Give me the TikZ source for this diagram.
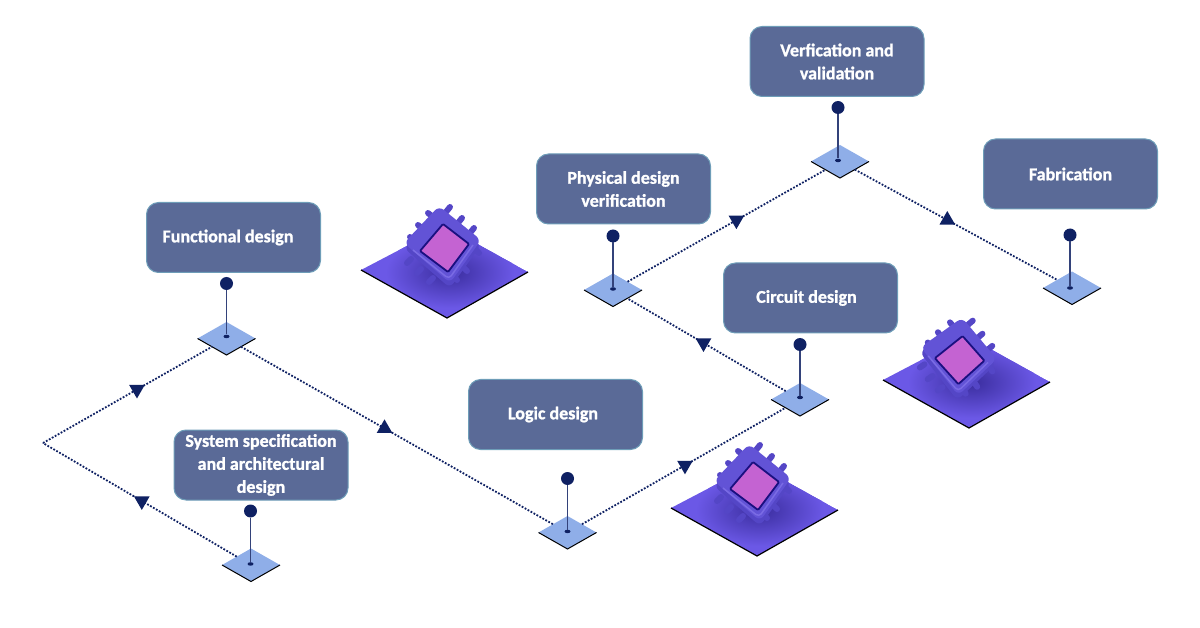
\documentclass[tikz,border=0pt]{standalone}
\usepackage{fontspec}
\setmainfont[BoldFeatures={FakeBold=1.2}]{Carlito}
\usepackage{xcolor}
\usetikzlibrary{positioning,shapes.geometric}

\definecolor{boxblue}{HTML}{5A6A97}
\definecolor{boxedge}{HTML}{6E9DB8}
\definecolor{padblue}{HTML}{8FAEE8}
\definecolor{inkblue}{HTML}{0F2163}
\definecolor{plateblue}{HTML}{6B58E6}
\definecolor{shadowblue}{HTML}{3A2D9E}
\definecolor{chipblue}{HTML}{6253D6}
\definecolor{chiplight}{HTML}{7A6BE4}
\definecolor{chipdark}{HTML}{5446C6}
\definecolor{chippink}{HTML}{C463D2}
\definecolor{chipink}{HTML}{1A1080}

\tikzset{
    stagebox/.style={draw=boxedge, line width=1pt, fill=boxblue, rounded corners=12pt, minimum width=174pt, minimum height=70pt, inner sep=0pt, align=center, text=white, font=\fontsize{18}{23}\selectfont\bfseries},
    pad/.style={diamond, fill=padblue, minimum width=58pt, minimum height=33pt, inner sep=0pt, outer sep=0pt},
    pinhead/.style={circle, fill=inkblue, minimum size=13pt, inner sep=0pt, outer sep=0pt},
    pinfoot/.style={ellipse, fill=inkblue, minimum width=6pt, minimum height=3.5pt, inner sep=0pt},
    pinline/.style={draw=inkblue!85!white, line width=1.2pt},
    flow/.style={draw=inkblue, line width=1.8pt, dash pattern=on 1.8pt off 1.6pt},
    tipup/.style={regular polygon, regular polygon sides=3, fill=inkblue, minimum size=18pt, inner sep=0pt},
    tipdown/.style={tipup, shape border rotate=180},
    tooth/.style={draw=chipdark, line width=6pt, line cap=round}
}

\newcommand{\chipplate}[5]{
    \begin{scope}[shift={(#1,#2)}]
        \begin{scope}
            \clip (361,270) -- (445,226) -- (528,272) -- (447,318) -- cycle;
            \fill [plateblue] (361,270) -- (445,226) -- (528,272) -- (447,318) -- cycle;
            \shade [inner color=shadowblue, outer color=plateblue] (450,272) ellipse (64 and 36);
        \end{scope}
        \draw [black, line width=1.2pt] (361,270) -- (447,318) -- (528,272);
        \begin{scope}[shift={(#3,#4)}, rotate around={#5:(445,248)}]
            \foreach \x/\y/\dx/\dy in {410/237/5/4, 418/225/5/4, 428/213/5/4, 450/207/-4/5, 462/218/-4/5, 474/228/-4/5, 407/263/4/-4, 417/273/4/-4, 429/282/4/-4, 479/253/-4/-4, 467/271/-4/-4, 457/280/-4/-4}
                \draw [tooth] (\x,\y) -- ++(\dx,\dy);
            \fill [chipdark, rounded corners=6pt] (404,248) -- (439,211) -- (481,245) -- (450,288) -- cycle;
            \fill [chipblue, rounded corners=6pt] (404,243) -- (439,206) -- (481,240) -- (450,283) -- cycle;
            \draw [chiplight, line width=1.5pt, rounded corners=4pt] (413,250) -- (449,279) -- (473,245);
            \draw [chipink, line width=1.8pt, fill=chippink, rounded corners=1pt] (420,251) -- (443,224) -- (469,244) -- (448,272) -- cycle;
        \end{scope}
    \end{scope}
}

\begin{document}
\begin{tikzpicture}[x=1pt, y=-1pt]
            \useasboundingbox (0,0) rectangle (1200,628);
            
            \chipplate{0}{0}{0}{0}{0}
            \chipplate{310}{238}{0}{0}{0}
            \chipplate{522}{110}{-7}{2}{-11}
            
            \node [stagebox] (bsys) at (261,465) {System specification\\and architectural\\design};
            \node [stagebox] (bfun) at (233.5,237.5) {Functional design\hspace{11pt}};
            \node [stagebox] (blog) at (555.5,414.5) {Logic design\hspace{5pt}};
            \node [stagebox] (bcir) at (810.5,298) {\raisebox{-3pt}{Circuit design}\hspace{8pt}};
            \node [stagebox] (bphy) at (623.5,189) {Physical design\\verification};
            \node [stagebox] (bver) at (837,61.5) {Verfication and\\validation};
            \node [stagebox] (bfab) at (1070.5,174) {Fabrication};
            
            \node [pad] (dsys) at (251,565) {};
            \node [pad] (dfun) at (226.5,338.5) {};
            \node [pad] (dlog) at (567.5,532.5) {};
            \node [pad] (dcir) at (800,399.5) {};
            \node [pad] (dphy) at (613,290) {};
            \node [pad] (dver) at (840,161.5) {};
            \node [pad] (dfab) at (1072,288) {};
            
            \foreach \n in {sys,fun,log,cir,phy,ver,fab}
                \draw [black, line width=1pt] (d\n.west) -- (d\n.south) -- (d\n.east);
            
            \node [pinhead, above = 31pt of dsys, xshift=-0.5pt] (psys) {};
            \node [pinhead, above = 32pt of dfun] (pfun) {};
            \node [pinhead, above = 31pt of dlog] (plog) {};
            \node [pinhead, above = 32pt of dcir] (pcir) {};
            \node [pinhead, above = 31pt of dphy] (pphy) {};
            \node [pinhead, above = 31pt of dver, xshift=-2pt] (pver) {};
            \node [pinhead, above = 30pt of dfab, xshift=-2pt] (pfab) {};
            
            \foreach \n in {sys,fun,log,cir,phy,ver,fab} {
                \node [pinfoot, below = 44.5pt of p\n] (f\n) {};
                \draw [pinline] (p\n) -- (f\n);
            }
            
            \coordinate (corner) at (43,443);
            
            \draw [flow] (dsys) -- node [tipdown, pos=.49] (t1) {} (corner);
            \draw [flow] (corner) -- node [tipdown, pos=.556] (t2) {} (dfun);
            \draw [flow] (dfun) -- node [tipup, pos=.46] (t3) {} (dlog);
            \draw [flow] (dlog) -- node [tipdown, pos=.506] (t4) {} (dcir);
            \draw [flow] (dcir) -- node [tipdown, pos=.519] (t5) {} (dphy);
            \draw [flow] (dphy) -- node [tipdown, pos=.55] (t6) {} (dver);
            \draw [flow] (dver) -- node [tipup, pos=.457] (t7) {} (dfab);
            \end{tikzpicture}
\end{document}
